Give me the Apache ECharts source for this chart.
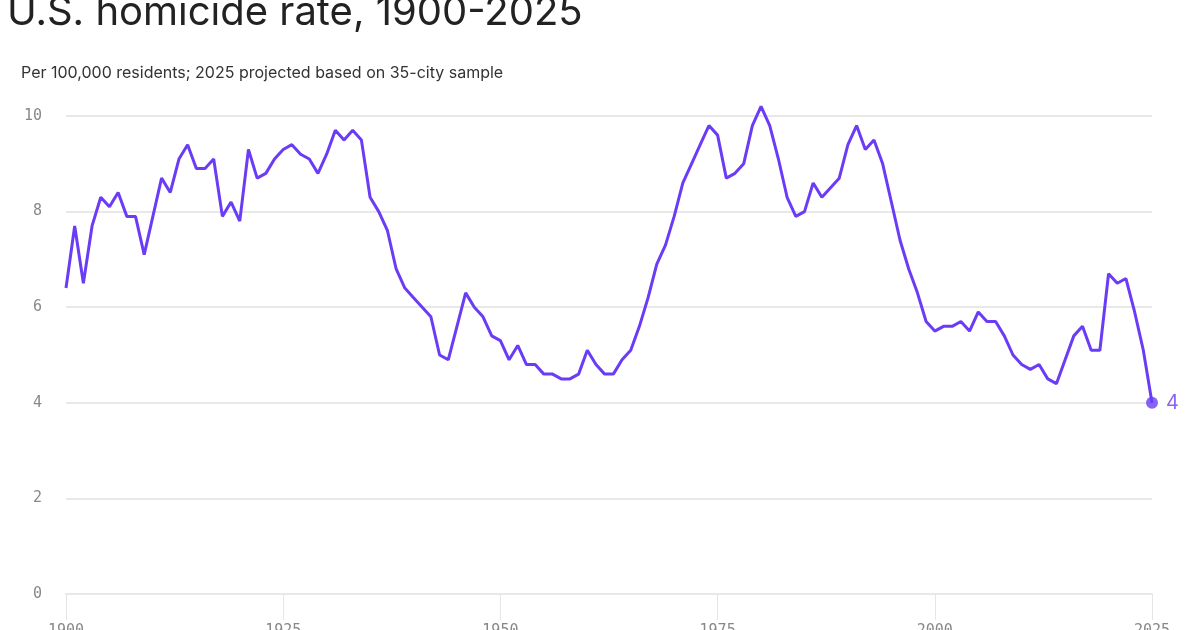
<!DOCTYPE html>
<html>
<head>
<meta charset="utf-8"/>
<title>U.S. homicide rate</title>
<style>
    html, body { margin: 0; padding: 0; background: #fff; overflow: hidden; }
    #chart { width: 1200px; height: 630px; }
</style>
</head>
<body>
<div id="chart"></div>
<script src="https://cdn.jsdelivr.net/npm/echarts@6/dist/echarts.min.js"></script>
<script>
    // years 1900..2025
    var startYear = 1900;
    var rates = [
        6.4, 7.7, 6.5, 7.7, 8.3, 8.1, 8.4, 7.9, 7.9, 7.1,
        7.9, 8.7, 8.4, 9.1, 9.4, 8.9, 8.9, 9.1, 7.9, 8.2,
        7.8, 9.3, 8.7, 8.8, 9.1, 9.3, 9.4, 9.2, 9.1, 8.8,
        9.2, 9.7, 9.5, 9.7, 9.5, 8.3, 8.0, 7.6, 6.8, 6.4,
        6.2, 6.0, 5.8, 5.0, 4.9, 5.6, 6.3, 6.0, 5.8, 5.4,
        5.3, 4.9, 5.2, 4.8, 4.8, 4.6, 4.6, 4.5, 4.5, 4.6,
        5.1, 4.8, 4.6, 4.6, 4.9, 5.1, 5.6, 6.2, 6.9, 7.3,
        7.9, 8.6, 9.0, 9.4, 9.8, 9.6, 8.7, 8.8, 9.0, 9.8,
        10.2, 9.8, 9.1, 8.3, 7.9, 8.0, 8.6, 8.3, 8.5, 8.7,
        9.4, 9.8, 9.3, 9.5, 9.0, 8.2, 7.4, 6.8, 6.3, 5.7,
        5.5, 5.6, 5.6, 5.7, 5.5, 5.9, 5.7, 5.7, 5.4, 5.0,
        4.8, 4.7, 4.8, 4.5, 4.4, 4.9, 5.4, 5.6, 5.1, 5.1,
        6.7, 6.5, 6.6, 5.9, 5.1, 4.0
    ];
    var yTicks = [0, 2, 4, 6, 8, 10];

    var points = [];
    for (var i = 0; i < rates.length; i++) {
        points.push([startYear + i, rates[i]]);
    }
    var last = points[points.length - 1];

    var purple = '#6a3cf5';
    var labelFont = '"DejaVu Sans Mono", monospace';

    var option = {
        animation: false,
        title: [
            {
                text: 'U.S. homicide rate, 1900-2025',
                left: 2, top: -12,
                textStyle: { fontFamily: 'Inter', fontSize: 40, fontWeight: 'normal', color: '#222' }
            },
            {
                text: 'Per 100,000 residents; 2025 projected based on 35-city sample',
                left: 16, top: 60,
                textStyle: { fontFamily: 'Inter', fontSize: 16, fontWeight: 'normal', color: '#333' }
            }
        ],
        grid: { left: 66, right: 48, top: 116, bottom: 36, outerBoundsMode: 'none', containLabel: false },
        xAxis: {
            type: 'value',
            min: 1900, max: 2025, interval: 25,
            axisLine: { show: true, lineStyle: { color: '#e8e8e8', width: 2 } },
            axisTick: { show: true, length: 26, lineStyle: { color: '#e6e6e6' } },
            splitLine: { show: false },
            axisLabel: {
                margin: 30, fontFamily: labelFont, fontSize: 15, color: '#888',
                formatter: function (v) { return String(v); }
            }
        },
        yAxis: {
            type: 'value',
            min: 0, max: 10, interval: 2,
            axisLine: { show: false },
            axisTick: { show: false },
            splitLine: { lineStyle: { color: '#e8e8e8', width: 2 } },
            axisLabel: {
                margin: 24, fontFamily: labelFont, fontSize: 15, color: '#888',
                formatter: function (v) { return yTicks.indexOf(v) >= 0 ? String(v) : ''; }
            }
        },
        series: [
            {
                type: 'line',
                data: points,
                symbol: 'none',
                clip: false,
                lineStyle: { color: purple, width: 3 },
                z: 3
            },
            {
                type: 'scatter',
                data: [last],
                symbolSize: 12,
                itemStyle: { color: purple },
                label: {
                    show: true, position: 'right', distance: 8,
                    formatter: function (p) { return String(p.value[1]); },
                    fontFamily: 'Inter', fontSize: 20, color: purple
                },
                z: 4
            }
        ]
    };

    var myChart = echarts.init(document.getElementById('chart'));
    myChart.setOption(option);
</script>
</body>
</html>
